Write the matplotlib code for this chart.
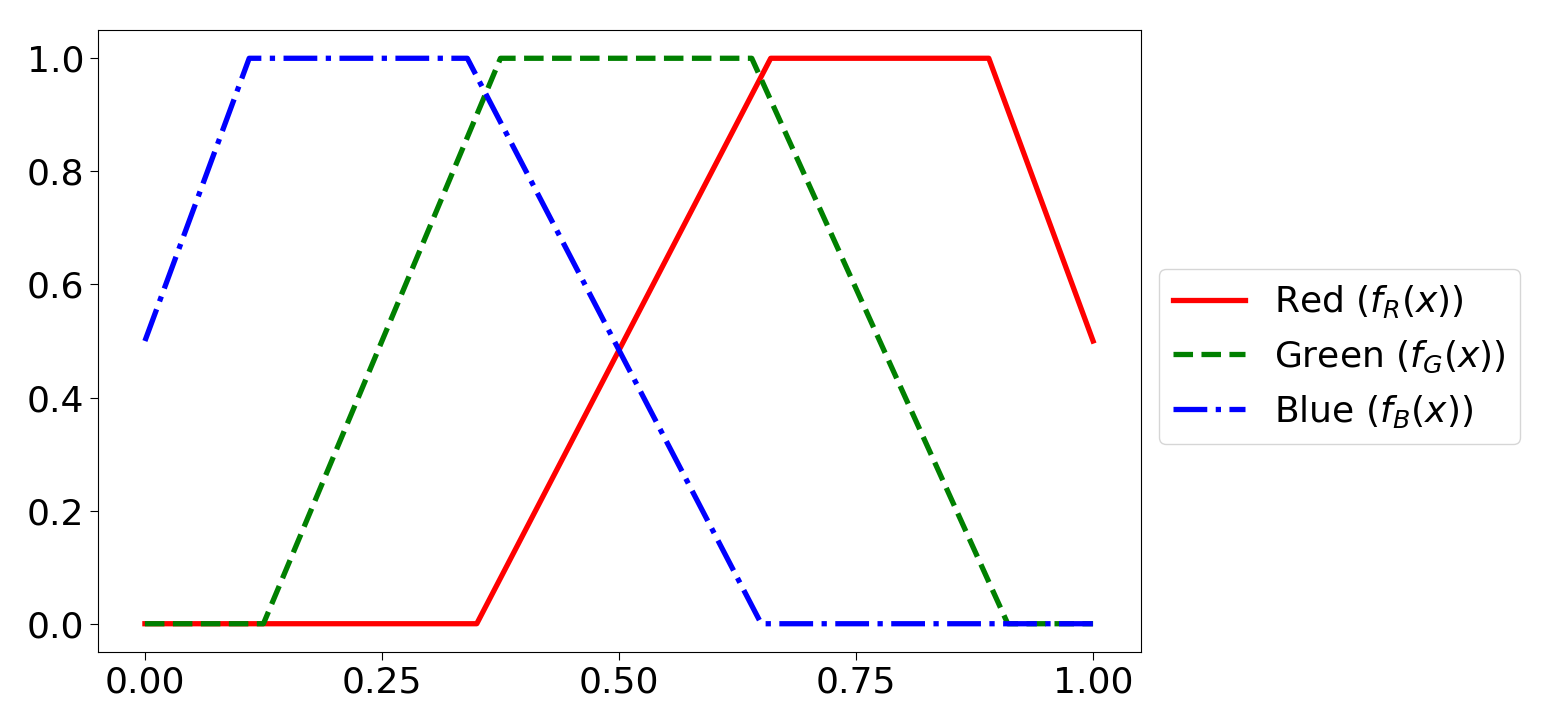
import matplotlib
matplotlib.use("Agg")
import matplotlib.pyplot as plt

red_x = [0.0, 0.35, 0.66, 0.89, 1.0]
red_y = [0.0, 0.0, 1.0, 1.0, 0.5]
green_x = [0.0, 0.125, 0.375, 0.64, 0.91, 1.0]
green_y = [0.0, 0.0, 1.0, 1.0, 0.0, 0.0]
blue_x = [0.0, 0.11, 0.34, 0.65, 1.0]
blue_y = [0.5, 1.0, 1.0, 0.0, 0.0]

plt.rcParams['font.size'] = 26
fig = plt.figure(figsize=(15.53, 7.16), dpi=100)
ax = fig.add_axes([97.5/1553, 1 - 652/716, (1140.5 - 97.5)/1553, (652 - 30)/716])
ax.plot(red_x, red_y, color='red', lw=3.8, ls='-', label='Red ($f_R(x)$)')
ax.plot(green_x, green_y, color='green', lw=3.8, ls='--', label='Green ($f_G(x)$)')
ax.plot(blue_x, blue_y, color='blue', lw=3.8, ls='-.', label='Blue ($f_B(x)$)')
ax.set_xticks([0, 0.25, 0.5, 0.75, 1.0])
ax.set_yticks([0, 0.2, 0.4, 0.6, 0.8, 1.0])
ax.tick_params(labelsize=26, length=6)
ax.legend(loc='center left', bbox_to_anchor=(1.0, 0.475), fontsize=26)
fig.savefig('out.png', dpi=100)
